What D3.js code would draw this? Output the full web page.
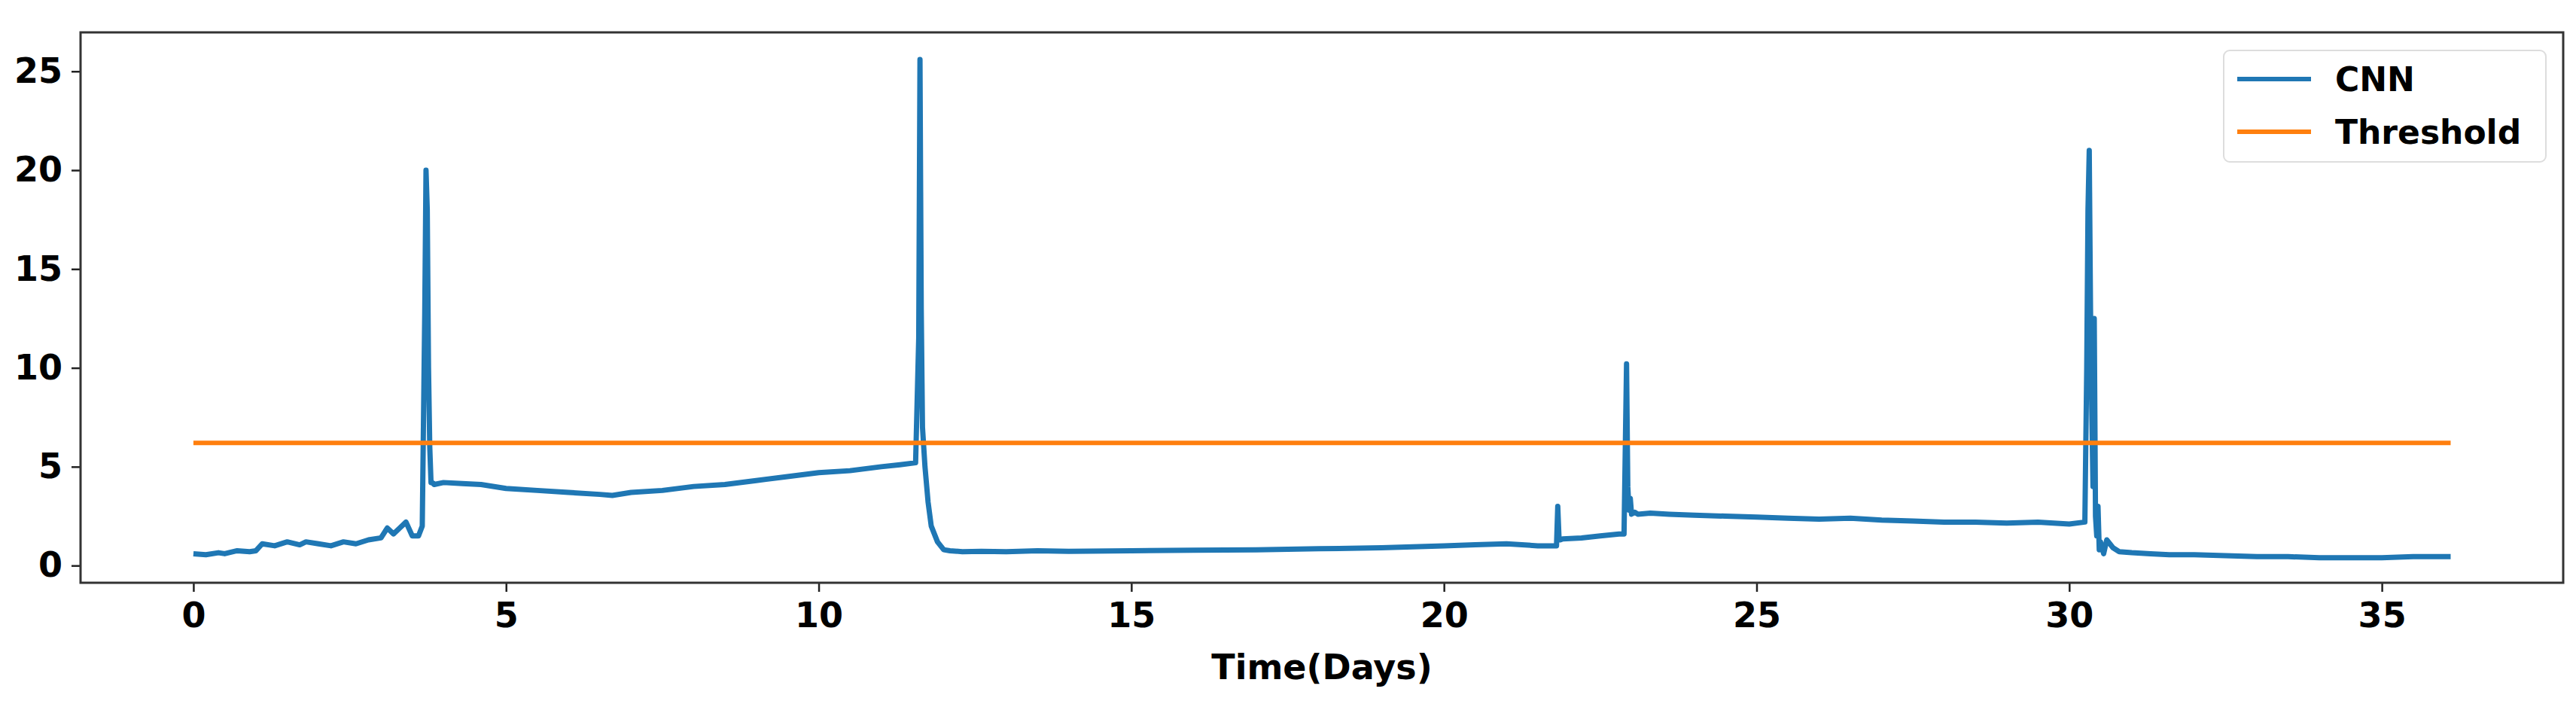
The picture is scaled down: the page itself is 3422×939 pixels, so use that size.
<!DOCTYPE html>
<html>
<head>
<meta charset="utf-8">
<script src="https://cdn.jsdelivr.net/npm/d3@7"></script>
<style>
  body { margin: 0; background: #fff; }
  text { font-family: "DejaVu Sans", sans-serif; font-weight: bold; }
</style>
</head>
<body>
<div id="holder"></div>
<script>
const w = 3422;
const h = 939;
const margin = { left: 107, right: 17, top: 43, bottom: 165 };

// CNN anomaly score over time (days, value)
const cnnDays = [
  0, 0.2, 0.4, 0.5, 0.7, 0.9, 1.0, 1.1, 1.3, 1.5, 1.7, 1.8, 2.0, 2.2, 2.4, 2.6, 2.8, 3.0, 3.1, 3.2, 3.3, 3.4, 3.5, 3.6, 3.66,
  3.7, 3.72, 3.74, 3.76, 3.78, 3.8, 3.82, 3.85, 4.0, 4.3, 4.6, 5.0, 5.5, 6.0, 6.5, 6.7, 7.0, 7.5, 8.0, 8.5, 9.0, 9.5, 10.0, 10.5, 11.0, 11.3, 11.55,
  11.6, 11.62, 11.64, 11.66, 11.7, 11.75, 11.8, 11.9, 12.0, 12.1, 12.3, 12.6, 13.0, 13.5, 14.0, 15.0, 16.0, 17.0, 18.0, 19.0, 19.5, 20.0, 20.5, 21.0, 21.5, 21.8,
  21.82, 21.84, 21.86, 21.9, 22.2, 22.5, 22.8, 22.88, 22.92, 22.94, 22.96, 22.98, 23.0, 23.05, 23.1, 23.3, 23.6, 24.0, 24.5, 25.0, 25.5, 26.0, 26.5, 27.0, 27.5, 28.0, 28.5, 29.0, 29.5, 30.0, 30.25,
  30.28, 30.3, 30.32, 30.34, 30.36, 30.38, 30.4, 30.42, 30.44, 30.46, 30.48, 30.5, 30.55, 30.6, 30.7, 30.8, 31.0, 31.3, 31.6, 32.0, 32.5, 33.0, 33.5, 34.0, 34.5, 35.0, 35.5, 36.1
];
const cnnValues = [
  0.6, 0.55, 0.65, 0.6, 0.75, 0.7, 0.75, 1.1, 1.0, 1.2, 1.05, 1.2, 1.1, 1.0, 1.2, 1.1, 1.3, 1.4, 1.9, 1.6, 1.9, 2.2, 1.5, 1.5, 2.0,
  12.8, 20.0, 18.0, 10.0, 6.0, 4.2, 4.2, 4.1, 4.2, 4.15, 4.1, 3.9, 3.8, 3.7, 3.6, 3.55, 3.7, 3.8, 4.0, 4.1, 4.3, 4.5, 4.7, 4.8, 5.0, 5.1, 5.2,
  11.5, 25.6, 13.0, 7.0, 5.0, 3.2, 2.0, 1.2, 0.8, 0.75, 0.7, 0.72, 0.7, 0.75, 0.72, 0.75, 0.78, 0.8, 0.85, 0.9, 0.95, 1.0, 1.05, 1.1, 1.0, 1.0,
  3.0, 1.4, 1.3, 1.35, 1.4, 1.5, 1.6, 1.6, 10.2, 4.0, 2.8, 3.4, 2.6, 2.7, 2.6, 2.65, 2.6, 2.55, 2.5, 2.45, 2.4, 2.35, 2.4, 2.3, 2.25, 2.2, 2.2, 2.15, 2.2, 2.1, 2.2,
  10.0, 18.0, 21.0, 13.0, 8.0, 4.0, 12.5, 2.5, 1.5, 3.0, 0.8, 1.2, 0.6, 1.3, 0.9, 0.7, 0.65, 0.6, 0.55, 0.55, 0.5, 0.45, 0.45, 0.4, 0.4, 0.4, 0.45, 0.45
];
const thresholdValue = 6.2;
const thresholdDays = [0, 36.1];
const xTicks = [0, 5, 10, 15, 20, 25, 30, 35];
const yTicks = [0, 5, 10, 15, 20, 25];

const cnn = cnnDays.map((d, i) => ({ t: d, v: cnnValues[i] }));
const threshold = thresholdDays.map(d => ({ t: d, v: thresholdValue }));

const svg = d3.select("#holder")
    .append("svg")
    .attr("width", w)
    .attr("height", h)

const x = d3.scaleLinear()
    .domain([-1.805, 37.9])
    .range([margin.left, w - margin.right])

const y = d3.scaleLinear()
    .domain([-0.87, 26.97])
    .range([h - margin.bottom, margin.top])

const line = d3.line()
    .x(d => x(d.t))
    .y(d => y(d.v))

svg.append("path")
    .datum(cnn)
    .attr("fill", "none")
    .attr("stroke", "#1f77b4")
    .attr("stroke-width", 7)
    .attr("stroke-linejoin", "round")
    .attr("d", line)

svg.append("path")
    .datum(threshold)
    .attr("fill", "none")
    .attr("stroke", "#ff7f0e")
    .attr("stroke-width", 6)
    .attr("d", line)

// Axes
svg.append("g")
    .attr("transform", `translate(0,${h - margin.bottom})`)
    .call(d3.axisBottom(x).tickValues(xTicks).tickSize(12).tickPadding(14))
svg.append("g")
    .attr("transform", `translate(${margin.left},0)`)
    .call(d3.axisLeft(y).tickValues(yTicks).tickSize(12).tickPadding(12))

svg.selectAll(".domain").remove()
svg.selectAll(".tick line").attr("stroke", "#222").attr("stroke-width", 2.5)
svg.selectAll(".tick text").attr("font-size", 46).attr("fill", "#000")

// Frame
svg.append("rect")
    .attr("x", margin.left)
    .attr("y", margin.top)
    .attr("width", w - margin.left - margin.right)
    .attr("height", h - margin.top - margin.bottom)
    .attr("fill", "none")
    .attr("stroke", "#333")
    .attr("stroke-width", 3)

svg.append("text")
    .attr("x", (margin.left + w - margin.right) / 2)
    .attr("y", 902)
    .attr("text-anchor", "middle")
    .attr("font-size", 46)
    .text("Time(Days)")

// Legend
const legend = svg.append("g").attr("transform", "translate(2954,67)")
legend.append("rect")
    .attr("width", 428)
    .attr("height", 148)
    .attr("rx", 8)
    .attr("fill", "#fff")
    .attr("stroke", "#ddd")
    .attr("stroke-width", 2)
const items = [{ name: "CNN", color: "#1f77b4" }, { name: "Threshold", color: "#ff7f0e" }]
items.forEach((d, i) => {
    const yy = 38 + i * 70
    legend.append("line")
        .attr("x1", 18).attr("x2", 116)
        .attr("y1", yy).attr("y2", yy)
        .attr("stroke", d.color).attr("stroke-width", 6)
    legend.append("text")
        .attr("x", 148).attr("y", yy + 16)
        .attr("font-size", 44)
        .text(d.name)
})
</script>
</body>
</html>
